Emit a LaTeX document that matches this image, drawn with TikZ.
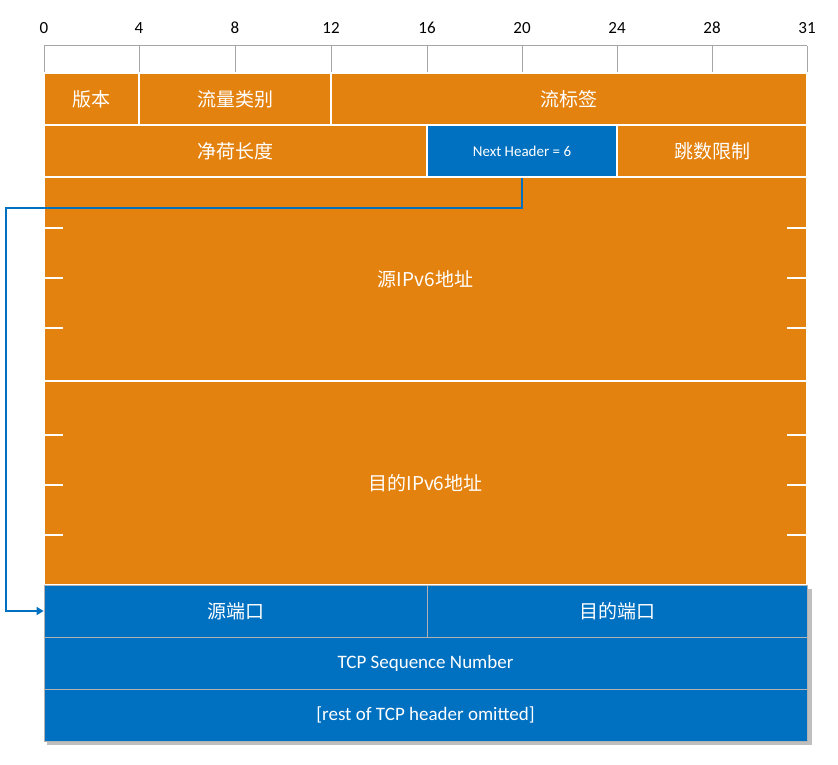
\documentclass[tikz,border=0pt]{standalone}
\usepackage{fontspec}
\setmainfont{Carlito}
\newfontfamily\cjk{Noto Sans CJK SC}
\usetikzlibrary{arrows.meta}
\definecolor{org}{HTML}{E3820F}
\definecolor{blu}{HTML}{0070C0}
\tikzset{
  ocell/.style={draw=white,line width=1.2pt,fill=org,text=white,font=\cjk\fontsize{19}{22}\selectfont},
  bcell/.style={draw=gray!60,line width=0.8pt,fill=blu,text=white,font=\cjk\fontsize{19}{22}\selectfont},
  axl/.style={font=\fontsize{17}{20}\selectfont},
}
\begin{document}
\begin{tikzpicture}[x=1pt,y=-1pt]
\useasboundingbox (0,0) rectangle (838,765);
% axis
\foreach \b/\x in {0/44,4/139,8/235,12/331,16/427,20/522,24/617,28/712,31/807}{
  \node[axl] (ax\b) at (\x,28) {\b};
  \draw[gray!70,line width=1pt] (\x,46) -- (\x,73);
}
\draw[gray!70,line width=1pt] (44,46) -- (807,46);
% shadow for blue block
\fill[black!25] (47,589) rectangle (812,745);
% orange rows
\node[ocell,minimum width=95pt,minimum height=52pt,inner sep=0] (ver) at (91.5,99) {版本};
\node[ocell,minimum width=192pt,minimum height=52pt,inner sep=0] (tc) at (235,99) {流量类别};
\node[ocell,minimum width=476pt,minimum height=52pt,inner sep=0] (fl) at (569,99) {流标签};
\node[ocell,minimum width=383pt,minimum height=52pt,inner sep=0] (pl) at (235.5,151) {净荷长度};
\node[draw=white,line width=1.2pt,fill=blu,text=white,font=\fontsize{15}{18}\selectfont,minimum width=190pt,minimum height=52pt,inner sep=0] (nh) at (522,151) {Next Header = 6};
\node[ocell,minimum width=190pt,minimum height=52pt,inner sep=0] (hl) at (712,151) {跳数限制};
\node[ocell,minimum width=763pt,minimum height=204pt,inner sep=0] (src) at (425.5,279) {源IPv6地址};
\node[ocell,minimum width=763pt,minimum height=204pt,inner sep=0] (dst) at (425.5,483) {目的IPv6地址};
\foreach \y in {228,278,328,435,485,535}{
  \draw[white,line width=1.2pt] (44,\y) -- (63,\y);
  \draw[white,line width=1.2pt] (787,\y) -- (807,\y);
}
% blue rows
\node[bcell,minimum width=383pt,minimum height=52pt,inner sep=0] (sp) at (235.5,611) {源端口};
\node[bcell,minimum width=380pt,minimum height=52pt,inner sep=0] (dp) at (617,611) {目的端口};
\node[bcell,font=\fontsize{19}{22}\selectfont,minimum width=763pt,minimum height=52pt,inner sep=0] (seq) at (425.5,663) {TCP Sequence Number};
\node[bcell,font=\fontsize{19}{22}\selectfont,minimum width=763pt,minimum height=52pt,inner sep=0] (rest) at (425.5,715) {[rest of TCP header omitted]};
% connector
\coordinate (c1) at (522,208);
\coordinate (c2) at (6,208);
\coordinate (c3) at (6,611);
\draw[blu,line width=1.5pt,-{Triangle[length=7pt,width=8pt]}] (nh.south) -- (c1) -- (c2) -- (c3) -- (sp.west);
\end{tikzpicture}
\end{document}
